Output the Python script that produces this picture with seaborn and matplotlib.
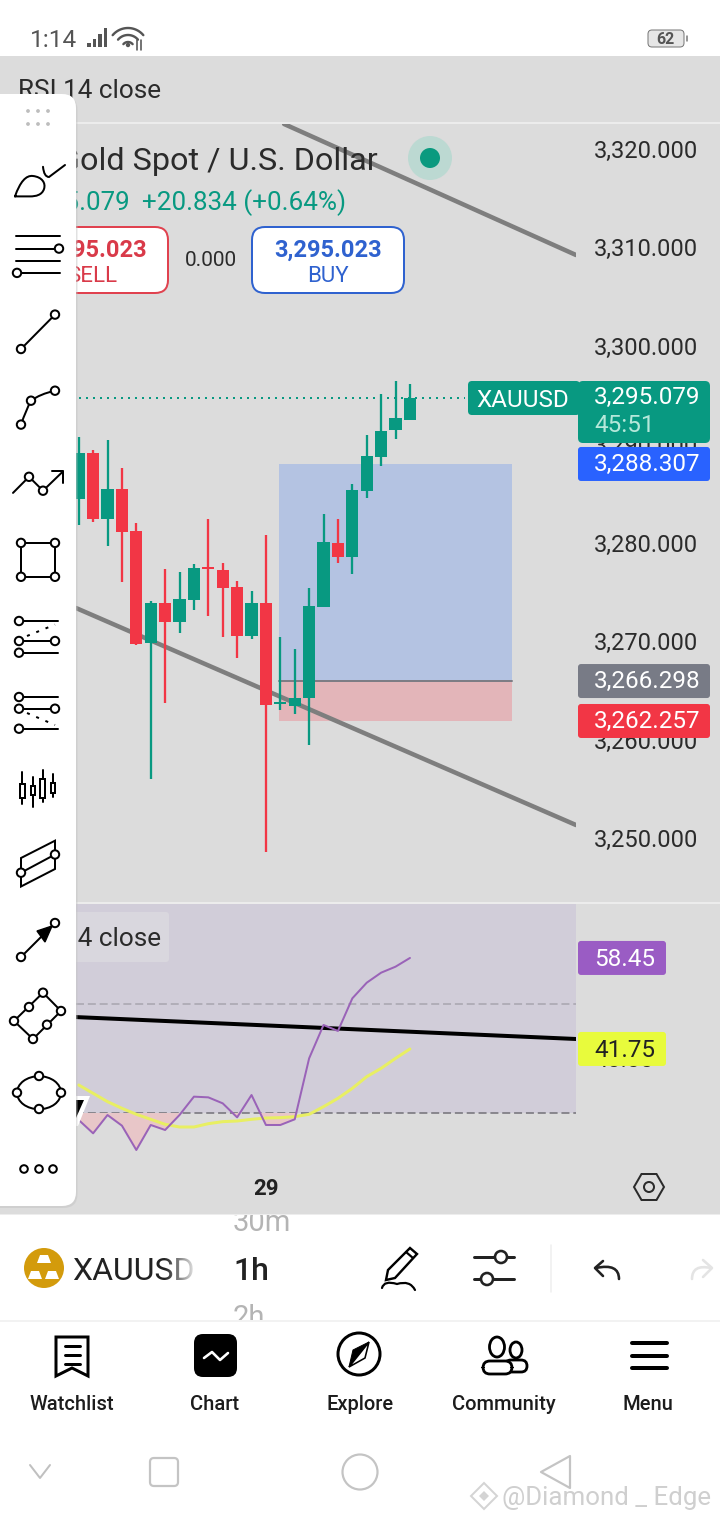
import numpy as np
import pandas as pd
import matplotlib
matplotlib.use('Agg')
import matplotlib.pyplot as plt
import seaborn as sns
from matplotlib.patches import Circle, Ellipse, FancyBboxPatch, PathPatch, Polygon, Rectangle
from matplotlib.path import Path

# Candles (1h XAUUSD)
opens = [3284.48, 3289.15, 3282.44, 3285.46, 3281.19, 3269.85, 3273.91, 3271.98, 3274.22, 3277.47, 3277.23, 3275.50,
         3270.56, 3273.91, 3263.58, 3263.42, 3264.26, 3273.51, 3280.01, 3278.55, 3285.26, 3288.71, 3291.45, 3292.47]
highs = [3290.78, 3289.42, 3290.44, 3287.59, 3282.00, 3274.08, 3277.33, 3277.06, 3277.84, 3282.41, 3277.98, 3276.11,
         3275.10, 3280.79, 3270.46, 3269.21, 3275.40, 3282.92, 3282.41, 3285.97, 3290.95, 3295.11, 3296.43, 3296.13]
lows = [3281.80, 3282.14, 3279.67, 3276.01, 3269.61, 3256.03, 3263.75, 3270.86, 3273.17, 3272.59, 3270.43, 3268.29,
        3270.26, 3248.62, 3263.01, 3262.64, 3259.45, 3273.51, 3277.91, 3276.83, 3284.58, 3287.80, 3290.54, 3292.47]
closes = [3289.15, 3282.44, 3285.46, 3281.12, 3269.71, 3273.91, 3271.98, 3274.28, 3277.43, 3277.37, 3275.40, 3270.56,
          3273.91, 3263.55, 3263.69, 3264.26, 3273.57, 3280.08, 3278.55, 3285.36, 3288.81, 3291.35, 3292.67, 3294.70]

# RSI pane
rsi_values = [28.72, 26.27, 29.63, 27.68, 23.21, 27.80, 26.88, 29.63, 33.00, 32.87, 31.77, 29.20,
              33.30, 27.80, 27.80, 28.84, 40.03, 46.15, 45.05, 51.04, 53.91, 55.75, 56.85, 58.45]
rsi_ma = [35.14, 33.61, 32.08, 30.86, 29.76, 28.84, 27.92, 27.43, 27.43, 28.04, 28.41, 28.53,
          28.84, 29.08, 29.14, 29.33, 29.76, 31.16, 32.69, 34.53, 36.67, 38.20, 40.03, 41.75]

# Drawn objects
lower_trend_x = [-0.19, 34.53]
lower_trend_y = [3273.37, 3251.32]
upper_trend_x = [14.26, 34.53]
upper_trend_y = [3322.54, 3309.23]
rsi_trend_x = [-0.19, 34.53]
rsi_trend_y = [47.6, 43.58]
box_left, box_right = 13.91, 30.09
box_target, box_entry, box_stop = 3288.0, 3265.95, 3261.89

price_ticks = [3250, 3260, 3270, 3280, 3290, 3300, 3310, 3320]
rsi_ticks = [40, 60]
time_tick = 13
time_label = '29'

GREEN = '#089981'
RED = '#f23645'
BG = '#dcdcdc'
TINT = '#d1cdd9'
INK = '#2b2b2b'

sns.set_theme(style='white')
plt.rcParams['font.family'] = ['Roboto', 'DejaVu Sans']
W, H = 720, 1520
fig = plt.figure(figsize=(W / 100, H / 100), dpi=100, facecolor='white')


def px(v):
    # pixels to points at dpi 100
    return v * 0.72


def pane(x0, y0, x1, y1, zorder):
    ax = fig.add_axes([x0 / W, 1 - y1 / H, (x1 - x0) / W, (y1 - y0) / H], zorder=zorder)
    ax.set_facecolor('none')
    for s in ax.spines.values():
        s.set_visible(False)
    return ax


under = pane(0, 0, W, H, 0)
under.set_xlim(0, W)
under.set_ylim(H, 0)
under.axis('off')
under.add_patch(Rectangle((0, 56), W, 1158, color=BG, lw=0))
under.plot([0, W], [123, 123], color='#ececec', lw=px(2))
under.plot([0, W], [903, 903], color='#ececec', lw=px(2))
under.plot([0, W], [1214.5, 1214.5], color='#e8e8e8', lw=px(1.5))

# ---- price pane
ax = pane(0, 124, 576, 902, 1)
ax.set_xlim(-5.465, 34.53)
ax.set_ylim(3243.5, 3322.54)
ax.add_patch(Rectangle((box_left, box_entry), box_right - box_left, box_target - box_entry, color='#b4c3e2', lw=0, zorder=1))
ax.add_patch(Rectangle((box_left, box_stop), box_right - box_left, box_entry - box_stop, color='#e3b5b9', lw=0, zorder=1))
ax.plot([box_left, box_right], [box_entry, box_entry], color='#7d7d85', lw=px(2), zorder=1.2)
ax.plot([0, 26.85], [closes[-1], closes[-1]], color=GREEN, lw=px(2), ls=(0, (1, 2.5)), zorder=1.3)

for tx, ty in [(lower_trend_x, lower_trend_y), (upper_trend_x, upper_trend_y)]:
    sns.lineplot(x=tx, y=ty, ax=ax, color='#7e7e7e', lw=px(4.5), zorder=2, legend=False)

df = pd.DataFrame({'open': opens, 'high': highs, 'low': lows, 'close': closes})
df['i'] = df.index
df['color'] = np.where(df['close'] >= df['open'], GREEN, RED)
ax.vlines(df['i'], df['low'], df['high'], colors=df['color'], lw=px(2.3), zorder=3)
ax.bar(df['i'], (df['close'] - df['open']).abs().clip(lower=0.2), bottom=df[['open', 'close']].min(axis=1),
       width=0.84, color=df['color'], lw=0, zorder=3.1)

ax.yaxis.tick_right()
ax.set_yticks(price_ticks)
ax.set_yticklabels([f'{p:,.3f}' for p in price_ticks])
ax.tick_params(axis='y', length=0, pad=px(18), labelsize=17, labelcolor=INK)
ax.set_xticks([])
ax.set_xlabel('')
ax.set_ylabel('')

# ---- RSI pane
rax = pane(0, 904, 576, 1170, 1)
rax.set_xlim(-5.465, 34.53)
rax.set_ylim(19.54, 68.35)
rax.axhspan(30, 70, color=TINT, lw=0, zorder=0.5)
xs = np.arange(len(rsi_values))
rax.hlines(50, -0.2, 34.53, color='#aaa7b0', lw=px(1.6), ls=(0, (5, 2.4)), zorder=1)
rax.hlines(30, -0.2, 34.53, color='#77757c', lw=px(1.6), ls=(0, (5, 2.4)), zorder=1)
rax.fill_between(xs, rsi_values, 30, where=np.array(rsi_values) < 30, interpolate=True, color='#e8c6c8', lw=0, zorder=1.2)
sns.lineplot(x=rsi_trend_x, y=rsi_trend_y, ax=rax, color='black', lw=px(4), zorder=2, legend=False)
sns.lineplot(x=xs, y=rsi_ma, ax=rax, color='#e8ef62', lw=px(3), zorder=3, legend=False)
sns.lineplot(x=xs, y=rsi_values, ax=rax, color='#9a63b8', lw=px(2), zorder=4, legend=False)
rax.yaxis.tick_right()
rax.set_yticks(rsi_ticks)
rax.set_yticklabels([f'{v:.2f}' for v in rsi_ticks])
rax.tick_params(axis='y', length=0, pad=px(18), labelsize=17, labelcolor=INK)
rax.set_xticks([time_tick])
rax.set_xticklabels([time_label], fontweight='bold', fontsize=16, color='#222222')
rax.tick_params(axis='x', length=0, pad=px(8))
rax.set_xlabel('')
rax.set_ylabel('')

# ---- everything on top, in screen pixels
page = pane(0, 0, W, H, 5)
page.set_xlim(0, W)
page.set_ylim(H, 0)
page.axis('off')


def on_page(a, v):
    return page.transData.inverted().transform(a.transData.transform((0, v)))[1]


def round_box(x0, y0, x1, y1, r, fc, ec='none', lw=0, z=5):
    p = FancyBboxPatch((x0 + r, y0 + r), x1 - x0 - 2 * r, y1 - y0 - 2 * r, boxstyle=f'round,pad={r}',
                       fc=fc, ec=ec, lw=px(lw), zorder=z)
    page.add_patch(p)
    return p


def label(x, y, s, size=17, color=INK, ha='left', weight='normal', z=6, **kw):
    return page.text(x, y, s, fontsize=size, color=color, ha=ha, va='center_baseline', fontweight=weight, zorder=z, **kw)


def seg(xs_, ys_, color='black', w=2, z=11, **kw):
    page.plot(xs_, ys_, color=color, lw=px(w), zorder=z, solid_capstyle='round', **kw)


def node(x, y, r=4.2):
    page.add_patch(Circle((x, y), r, fc='white', ec='black', lw=px(2), zorder=12))


def curve(points, codes, color='black', w=2, z=11, fc='none'):
    page.add_patch(PathPatch(Path(points, codes), fc=fc, ec=color, lw=px(w), zorder=z, capstyle='round'))


# header texts
label(18, 89, 'RSI 14 close', 18.8)
label(378, 158, 'Gold Spot / U.S. Dollar', 23.3, ha='right')
label(130, 200, '3,295.079', 18.6, GREEN, ha='right')
label(142, 200, '+20.834 (+0.64%)', 18.7, GREEN)
page.add_patch(Circle((430, 158), 22, fc='#bcd9d2', ec='none', zorder=4))
page.add_patch(Circle((430, 158), 10, fc='#0a9a7f', ec='none', zorder=5))
round_box(10, 227, 168, 293, 13, 'white', '#e0424f', 2)
label(147, 247.5, '3,295.023', 17, '#d93a49', ha='right', weight='bold')
label(117, 274, 'SELL', 16, '#d93a49', ha='right')
label(211, 259, '0.000', 15, INK, ha='center')
round_box(252, 227, 404, 293, 13, 'white', '#2f62cf', 2)
label(328, 247.5, '3,295.023', 17, '#2f62cf', ha='center', weight='bold')
label(328, 274, 'BUY', 16, '#2f62cf', ha='center')

# price tags
round_box(468, 381, 580, 415, 4, GREEN)
label(476, 398, 'XAUUSD', 17.5, 'white')
round_box(578, 381, 710, 443, 5, GREEN)
label(594, 395, '3,295.079', 17.5, 'white')
label(594, 423.5, '45:51', 17.5, '#b5e8da')
tags = [(ax, box_target, '3,288.307', '#2962ff', 'white'), (ax, box_entry, '3,266.298', '#787b86', 'white'),
        (ax, box_stop, '3,262.257', RED, 'white')]
for a, v, txt, fc, tc in tags:
    yc = on_page(a, v)
    round_box(578, yc - 17, 710, yc + 17, 3, fc)
    label(594, yc - 2.5, txt, 17.5, tc)
for v, txt, fc, tc in [(rsi_values[-1], '58.45', '#9a5cc4', 'white'), (rsi_ma[-1], '41.75', '#e8fb3c', '#222222')]:
    yc = on_page(rax, v)
    round_box(578, yc - 17, 666, yc + 17, 3, fc)
    label(594, yc - 1, txt, 17.5, tc)

# rsi legend chip
round_box(70, 912, 169, 962, 3, '#d9d7de', z=4)
label(161, 937, 'RSI 14 close', 18.8, ha='right')
page.add_patch(Polygon([(76, 1096), (90, 1096), (78, 1126), (76, 1126)], fc='white', ec='none', zorder=4))
page.add_patch(Polygon([(76, 1100), (84, 1100), (76, 1118)], fc='black', ec='none', zorder=4.5))

# hexagon settings button
ang = np.deg2rad(np.arange(0, 360, 60))
page.add_patch(Polygon(np.c_[649 + 15 * np.cos(ang), 1187 + 15 * np.sin(ang)], fc='none', ec=INK, lw=px(2), zorder=6))
page.add_patch(Circle((649, 1187), 5, fc='none', ec=INK, lw=px(2), zorder=6))

# status bar
label(30, 38, '1:14', 17.5, '#555555')
for i, h in enumerate([4, 8, 13, 19]):
    page.add_patch(Rectangle((87 + i * 5.6, 47 - h), 3.6, h, fc='#555555', lw=0, zorder=6))
for r in [6, 13, 20]:
    t = np.linspace(np.deg2rad(-140), np.deg2rad(-40), 20)
    seg(128 + r * np.cos(t), 48 + r * np.sin(t), '#555555', 2.4, 6)
page.add_patch(Circle((128, 45), 2.2, fc='#555555', lw=0, zorder=6))
seg([137, 137], [40, 50], '#555555', 1.6, 6)
seg([141, 141], [40, 50], '#555555', 1.6, 6)
round_box(648, 30, 684, 47, 4, '#e6e6e6', '#777777', 1)
label(665.5, 38.5, '62', 11.5, '#555555', ha='center', weight='bold')
seg([687, 687], [36, 41], '#777777', 1.5, 6)

# side toolbar
round_box(-20, 96, 77.5, 1208, 14, '#c4c4c4', z=9).set_alpha(0.5)
round_box(-20, 94, 76, 1206, 14, 'white', z=10)
for dx in (28, 38, 48):
    for dy in (111, 124):
        page.add_patch(Circle((dx, dy), 1.9, fc='#bdbdbd', lw=0, zorder=11))

C3, C4, M, L = Path.CURVE3, Path.CURVE4, Path.MOVETO, Path.LINETO
curve([(15, 196.4), (20, 182), (26, 175), (33, 176), (42, 177), (46, 183), (44, 189), (42, 195), (36, 196.4), (30, 196.4), (15, 196.4)],
      [M, C4, C4, C4, C4, C4, C4, C4, C4, C4, L])
curve([(43, 166.8), (44, 177), (49, 177), (65, 165)], [M, C3, C3, L])
for yy, x0, x1 in [(236.4, 16, 60), (248.6, 16, 59), (260.7, 16, 60), (272.9, 17, 60)]:
    seg([x0, x1], [yy, yy])
node(59, 248.6)
node(17, 272.9)
seg([21, 55], [349, 314.6])
node(21, 349)
node(55, 314.6)
curve([(21, 424.6), (26, 410), (31, 400.7), (40, 394), (55, 390.7)], [M, C3, C3, C3, C3])
for p in [(21, 424.6), (31, 400.7), (55, 390.7)]:
    node(*p)
seg([13, 29, 43, 63], [492.9, 476.8, 490.7, 471.4])
seg([52, 63, 63], [471.4, 471.4, 482.9])
node(29, 476.8)
node(43, 490.7)
page.add_patch(Rectangle((21, 542.9), 34, 33.9, fc='none', ec='black', lw=px(2), zorder=11))
for p in [(21, 542.9), (55, 542.9), (21, 576.8), (55, 576.8)]:
    node(*p)
# pitchfork style icons
for top, mid, low, d0, d1 in [(621, 641, 652.7, (27, 636), (55, 624.6)), (697, 708.7, 728.7, (27, 713), (55, 725))]:
    seg([19, 58], [top, top])
    seg([19, 55], [mid, mid])
    seg([19, 58], [low, low])
    node(19, top)
    node(19, mid)
    node(55, mid)
    node(19, low)
    page.plot([d0[0], d1[0]], [d0[1], d1[1]], color='black', lw=px(2), ls=(0, (1.5, 3.5)), zorder=11)
for cx, w0, w1, b0, b1 in [(22.3, 771.6, 803.6, 784, 798), (33, 777, 807, 786, 794.5), (42.7, 770, 802, 779, 797.5), (53, 774, 797, 783, 793)]:
    seg([cx, cx], [w0, w1])
    page.add_patch(Rectangle((cx - 2.4, b0), 4.8, b1 - b0, fc='white', ec='black', lw=px(2), zorder=12))
page.add_patch(Polygon([(21, 858), (55, 840.7), (55, 869), (21, 886.5)], fc='none', ec='black', lw=px(2), zorder=11))
seg([21, 55], [872.7, 854.5])
node(21, 872.7)
node(55, 854.5)
seg([21, 55], [957, 923])
page.add_patch(Polygon([(52, 926), (37, 931), (45, 942)], fc='black', ec='black', zorder=11))
node(21, 957)
node(55, 923)
page.add_patch(Polygon([(43, 992.7), (61, 1011), (33, 1039), (14, 1021)], fc='none', ec='black', lw=px(2), zorder=11))
for p in [(43, 992.7), (61, 1011), (47, 1024.7), (33, 1039), (14, 1021), (29, 1007)]:
    node(*p)
page.add_patch(Ellipse((39, 1092.7), 44, 33, fc='none', ec='black', lw=px(2), zorder=11))
for p in [(39, 1076), (61, 1092.7), (39, 1109), (17, 1092.7)]:
    node(*p)
for dx in (24, 39, 53):
    node(dx, 1169, 3.8)

# symbol row
page.add_patch(Rectangle((0, 1215), W, 305, fc='white', lw=0, zorder=4))
page.add_patch(Ellipse((44, 1268), 40, 40, fc='#d39b0c', lw=0, zorder=6))
for bx, by in [(44, 1259), (35, 1275), (52, 1275)]:
    page.add_patch(Polygon([(bx - 7, by + 4), (bx - 4, by - 4), (bx + 4, by - 4), (bx + 7, by + 4)], fc='white', lw=0, zorder=7))
label(72, 1268, 'XAUUSD', 23, '#222222')
fade = np.ones((1, 32, 4))
fade[..., 3] = np.linspace(0, 0.92, 32)
page.imshow(fade, extent=(164, 196, 1292, 1244), aspect='auto', zorder=8)
page.set_xlim(0, W)
page.set_ylim(H, 0)
label(233, 1268, '1h', 23, '#222222', weight='medium')
for x_, y_, s, top, bot in [(233, 1220, '30m', 1215, 1236), (233, 1315, '2h', 1296, 1320)]:
    t = label(x_, y_, s, 21, '#b4b4b4')
    t.set_clip_path(Rectangle((0, top), W, bot - top, transform=page.transData))
    t.set_clip_on(True)
page.plot([0, W], [1320.5, 1320.5], color='#eeeeee', lw=px(1.5), zorder=5)
seg([551, 551], [1245, 1292], '#eeeeee', 1.5, 6)

# pencil
page.add_patch(Polygon([(410, 1248), (417, 1254), (395, 1278), (386, 1280), (388, 1270)], fc='white', ec='black', lw=px(2.4), zorder=7))
seg([406, 413], [1252, 1258], w=2.2, z=8)
curve([(382, 1288), (384, 1280), (397, 1284), (410, 1280), (415, 1290)], [M, C3, C3, C3, C3], w=2.2, z=8)
# sliders
seg([474, 514], [1257, 1257], '#222222', 3, 7)
seg([474, 514], [1279, 1279], '#222222', 3, 7)
for cx, cy in [(501, 1257), (487, 1279)]:
    page.add_patch(Circle((cx, cy), 6, fc='white', ec='#222222', lw=px(2.6), zorder=8))
# undo / redo
seg([603, 595, 603], [1261, 1268, 1276], '#222222', 2.6, 7)
curve([(596, 1268), (619, 1263), (619, 1279)], [M, C3, C3], color='#222222', w=2.6, z=7)
seg([703, 712, 703], [1260, 1268, 1277], '#e4e4e4', 2.6, 7)
curve([(711, 1268), (692, 1264), (692, 1279)], [M, C3, C3], color='#e4e4e4', w=2.6, z=7)

# bottom navigation
page.add_patch(Polygon([(56, 1337), (88, 1337), (88, 1376), (72, 1368), (56, 1376)], fc='white', ec='black', lw=px(3), zorder=6))
for yy in (1346, 1355, 1364):
    seg([65, 80], [yy, yy], w=3, z=7)
round_box(194, 1334, 237, 1377, 9, 'black', z=6)
seg([204, 212, 220, 228], [1358, 1352, 1360, 1353], 'white', 2.6, 7)
page.add_patch(Circle((359, 1354), 21, fc='white', ec='black', lw=px(3), zorder=6))
page.add_patch(Polygon([(369, 1342), (349, 1367), (353, 1350)], fc='black', ec='black', lw=px(1), zorder=7))
page.add_patch(Polygon([(369, 1342), (349, 1367), (365, 1358)], fc='white', ec='black', lw=px(1.6), zorder=7))
page.add_patch(Ellipse((497, 1347), 15, 20, fc='white', ec='black', lw=px(2.8), zorder=7))
page.add_patch(Ellipse((516, 1350), 12, 16, fc='white', ec='black', lw=px(2.8), zorder=6))
round_box(505, 1360, 527, 1372, 6, 'white', 'black', 2.8, z=6)
round_box(483, 1361, 512, 1374, 7, 'white', 'black', 2.8, z=7)
for yy in (1343, 1356, 1368):
    seg([632, 667], [yy, yy], 'black', 4, 6)
for cx, s in [(72, 'Watchlist'), (215, 'Chart'), (360, 'Explore'), (504, 'Community'), (648, 'Menu')]:
    label(cx, 1402, s, 14.5, '#1c1c1c', ha='center', weight='medium')

# android nav + watermark
seg([30, 40, 50], [1465, 1478, 1465], '#c0c0c0', 2, 6)
round_box(150, 1458, 178, 1486, 4, 'none', '#c4c4c4', 2.2, z=6)
page.add_patch(Circle((360, 1472), 17.5, fc='none', ec='#c4c4c4', lw=px(2.2), zorder=6))
page.add_patch(Polygon([(570, 1456), (570, 1488), (541, 1472)], fc='none', ec='#c4c4c4', lw=px(2.2), joinstyle='round', zorder=6))
page.add_patch(Polygon([(484, 1483), (497, 1496), (484, 1509), (471, 1496)], fc='white', ec='#d4d4d4', lw=px(2), zorder=6))
page.add_patch(Polygon([(484, 1491), (489, 1496), (484, 1501), (479, 1496)], fc='#d4d4d4', lw=0, zorder=6))
label(502, 1496, '@Diamond _ Edge', 18.6, '#cfcfcf', z=7)

plt.savefig('out.png', dpi=100)
